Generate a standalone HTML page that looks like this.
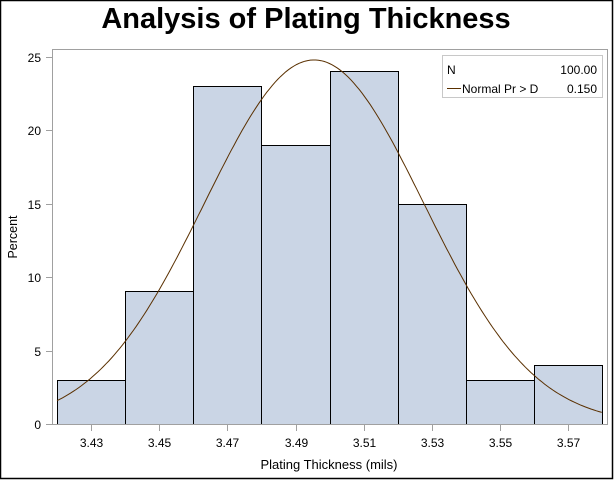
<!DOCTYPE html>
<html><head><style>
html,body{margin:0;padding:0;background:#fff;}
svg{display:block;}
text{font-family:"Liberation Sans",Arial,sans-serif;}
</style></head><body>
<svg width="614" height="480" xmlns="http://www.w3.org/2000/svg">
<rect x="0.5" y="0.5" width="612" height="478" fill="#fff" stroke="#000" stroke-width="1.5"/>
<text x="306" y="28" text-anchor="middle" font-size="29" font-weight="bold">Analysis of Plating Thickness</text>
<rect x="52.5" y="49.5" width="555" height="375" fill="#fff" stroke="#a0a0a0"/>
<g fill="#cad5e5" stroke="#000" stroke-width="1">
<rect x="57.5" y="380.5" width="68" height="44"/>
<rect x="125.5" y="291.5" width="68" height="133"/>
<rect x="193.5" y="86.5" width="68" height="338"/>
<rect x="261.5" y="145.5" width="69" height="279"/>
<rect x="330.5" y="71.5" width="68" height="353"/>
<rect x="398.5" y="204.5" width="68" height="220"/>
<rect x="466.5" y="380.5" width="68" height="44"/>
<rect x="534.5" y="365.5" width="68" height="59"/>
</g>
<path id="c" fill="none" stroke="#5a3000" stroke-width="1" d=""/>
<script>
var d="";for(var i=0;i<=200;i++){var v=3.42+0.16*i/200;var z=(v-3.4955)/0.0322;var p=24.8*Math.exp(-z*z/2);var x=57+(v-3.42)/0.02*68.1;var y=424-p*14.68;d+=(i?"L":"M")+x.toFixed(1)+","+y.toFixed(1);}
document.getElementById("c").setAttribute("d",d);
</script>
<g stroke="#a0a0a0">
<line x1="52" y1="424.5" x2="608" y2="424.5"/>
<line x1="46" y1="424.5" x2="52" y2="424.5"/>
<line x1="46" y1="351.5" x2="52" y2="351.5"/>
<line x1="46" y1="277.5" x2="52" y2="277.5"/>
<line x1="46" y1="204.5" x2="52" y2="204.5"/>
<line x1="46" y1="130.5" x2="52" y2="130.5"/>
<line x1="46" y1="57.5" x2="52" y2="57.5"/>
<line x1="91.5" y1="425" x2="91.5" y2="431"/>
<line x1="159.5" y1="425" x2="159.5" y2="431"/>
<line x1="227.5" y1="425" x2="227.5" y2="431"/>
<line x1="296.5" y1="425" x2="296.5" y2="431"/>
<line x1="364.5" y1="425" x2="364.5" y2="431"/>
<line x1="432.5" y1="425" x2="432.5" y2="431"/>
<line x1="500.5" y1="425" x2="500.5" y2="431"/>
<line x1="568.5" y1="425" x2="568.5" y2="431"/>
</g>
<g font-size="12" text-anchor="end">
<text x="41" y="429">0</text>
<text x="41" y="356">5</text>
<text x="41" y="282">10</text>
<text x="41" y="209">15</text>
<text x="41" y="135">20</text>
<text x="41" y="62">25</text>
</g>
<g font-size="12" text-anchor="middle">
<text x="91.5" y="447">3.43</text>
<text x="159.5" y="447">3.45</text>
<text x="227.5" y="447">3.47</text>
<text x="296.5" y="447">3.49</text>
<text x="364.5" y="447">3.51</text>
<text x="432.5" y="447">3.53</text>
<text x="500.5" y="447">3.55</text>
<text x="568.5" y="447">3.57</text>
<text x="329" y="469" font-size="13">Plating Thickness (mils)</text>
<text transform="translate(17,237) rotate(-90)" font-size="12.5">Percent</text>
</g>
<rect x="442.5" y="55.5" width="160" height="42" fill="#fff" stroke="#c8c8c8"/>
<g font-size="12">
<text x="447" y="74">N</text>
<text x="597" y="74" text-anchor="end">100.00</text>
<line x1="447" y1="88.5" x2="461" y2="88.5" stroke="#5a3000"/>
<text x="462" y="93">Normal Pr &gt; D</text>
<text x="597" y="93" text-anchor="end">0.150</text>
</g>
</svg>
</body></html>
